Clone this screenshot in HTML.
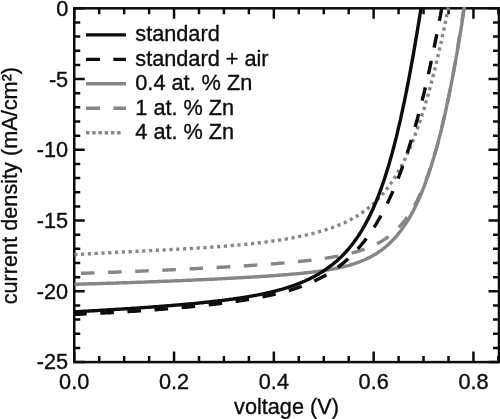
<!DOCTYPE html>
<html><head><meta charset="utf-8"><title>J-V curves</title>
<style>html,body{margin:0;padding:0;background:#fff}svg{display:block}.t text{font-family:"Liberation Sans",sans-serif}</style></head>
<body>
<svg width="500" height="419" viewBox="0 0 500 419">
<rect width="500" height="419" fill="#fff"/>
<defs><clipPath id="c"><rect x="74.25" y="7.1000000000000005" width="424.75" height="355.0"/></clipPath></defs>
<path d="M74.25,362.1v-10.5M74.25,8.3v10.5M99.20,362.1v-6.0M99.20,8.3v6.0M124.15,362.1v-6.0M124.15,8.3v6.0M149.10,362.1v-6.0M149.10,8.3v6.0M174.05,362.1v-10.5M174.05,8.3v10.5M199.00,362.1v-6.0M199.00,8.3v6.0M223.95,362.1v-6.0M223.95,8.3v6.0M248.90,362.1v-6.0M248.90,8.3v6.0M273.85,362.1v-10.5M273.85,8.3v10.5M298.80,362.1v-6.0M298.80,8.3v6.0M323.75,362.1v-6.0M323.75,8.3v6.0M348.70,362.1v-6.0M348.70,8.3v6.0M373.65,362.1v-10.5M373.65,8.3v10.5M398.60,362.1v-6.0M398.60,8.3v6.0M423.55,362.1v-6.0M423.55,8.3v6.0M448.50,362.1v-6.0M448.50,8.3v6.0M473.45,362.1v-10.5M473.45,8.3v10.5M498.40,362.1v-6.0M498.40,8.3v6.0M74.25,8.30h10.5M499.0,8.30h-10.5M74.25,22.45h6.0M499.0,22.45h-6.0M74.25,36.60h6.0M499.0,36.60h-6.0M74.25,50.75h6.0M499.0,50.75h-6.0M74.25,64.90h6.0M499.0,64.90h-6.0M74.25,79.05h10.5M499.0,79.05h-10.5M74.25,93.20h6.0M499.0,93.20h-6.0M74.25,107.35h6.0M499.0,107.35h-6.0M74.25,121.50h6.0M499.0,121.50h-6.0M74.25,135.65h6.0M499.0,135.65h-6.0M74.25,149.80h10.5M499.0,149.80h-10.5M74.25,163.95h6.0M499.0,163.95h-6.0M74.25,178.10h6.0M499.0,178.10h-6.0M74.25,192.25h6.0M499.0,192.25h-6.0M74.25,206.40h6.0M499.0,206.40h-6.0M74.25,220.55h10.5M499.0,220.55h-10.5M74.25,234.70h6.0M499.0,234.70h-6.0M74.25,248.85h6.0M499.0,248.85h-6.0M74.25,263.00h6.0M499.0,263.00h-6.0M74.25,277.15h6.0M499.0,277.15h-6.0M74.25,291.30h10.5M499.0,291.30h-10.5M74.25,305.45h6.0M499.0,305.45h-6.0M74.25,319.60h6.0M499.0,319.60h-6.0M74.25,333.75h6.0M499.0,333.75h-6.0M74.25,347.90h6.0M499.0,347.90h-6.0M74.25,362.05h10.5M499.0,362.05h-10.5" stroke="#0c0c0c" stroke-width="2.5" fill="none"/>
<rect x="74.25" y="8.3" width="424.75" height="353.8" fill="none" stroke="#0c0c0c" stroke-width="2.5"/>
<g clip-path="url(#c)" fill="none" stroke-width="3.4">
<path d="M74.2,284.3 L75.3,284.2 L76.3,284.2 L77.3,284.2 L78.4,284.2 L79.4,284.1 L80.4,284.1 L81.4,284.1 L82.5,284.0 L83.5,284.0 L84.5,284.0 L85.5,284.0 L86.6,283.9 L87.6,283.9 L88.6,283.9 L89.6,283.8 L90.7,283.8 L91.7,283.8 L92.7,283.8 L93.7,283.7 L94.8,283.7 L95.8,283.7 L96.8,283.6 L97.8,283.6 L98.9,283.6 L99.9,283.5 L100.9,283.5 L101.9,283.5 L103.0,283.5 L104.0,283.4 L105.0,283.4 L106.0,283.4 L107.1,283.3 L108.1,283.3 L109.1,283.3 L110.1,283.2 L111.2,283.2 L112.2,283.2 L113.2,283.1 L114.2,283.1 L115.3,283.1 L116.3,283.0 L117.3,283.0 L118.3,283.0 L119.4,282.9 L120.4,282.9 L121.4,282.9 L122.4,282.8 L123.5,282.8 L124.5,282.8 L125.5,282.7 L126.6,282.7 L127.6,282.7 L128.6,282.6 L129.6,282.6 L130.7,282.6 L131.7,282.5 L132.7,282.5 L133.7,282.4 L134.8,282.4 L135.8,282.4 L136.8,282.3 L137.8,282.3 L138.9,282.3 L139.9,282.2 L140.9,282.2 L141.9,282.2 L143.0,282.1 L144.0,282.1 L145.0,282.0 L146.0,282.0 L147.1,282.0 L148.1,281.9 L149.1,281.9 L150.1,281.8 L151.2,281.8 L152.2,281.8 L153.2,281.7 L154.2,281.7 L155.3,281.7 L156.3,281.6 L157.3,281.6 L158.3,281.5 L159.4,281.5 L160.4,281.5 L161.4,281.4 L162.4,281.4 L163.5,281.3 L164.5,281.3 L165.5,281.2 L166.5,281.2 L167.6,281.2 L168.6,281.1 L169.6,281.1 L170.6,281.0 L171.7,281.0 L172.7,281.0 L173.7,280.9 L174.8,280.9 L175.8,280.8 L176.8,280.8 L177.8,280.7 L178.9,280.7 L179.9,280.7 L180.9,280.6 L181.9,280.6 L183.0,280.5 L184.0,280.5 L185.0,280.4 L186.0,280.4 L187.1,280.3 L188.1,280.3 L189.1,280.3 L190.1,280.2 L191.2,280.2 L192.2,280.1 L193.2,280.1 L194.2,280.0 L195.3,280.0 L196.3,279.9 L197.3,279.9 L198.3,279.8 L199.4,279.8 L200.4,279.7 L201.4,279.7 L202.4,279.6 L203.5,279.6 L204.5,279.6 L205.5,279.5 L206.5,279.5 L207.6,279.4 L208.6,279.4 L209.6,279.3 L210.6,279.3 L211.7,279.2 L212.7,279.2 L213.7,279.1 L214.7,279.1 L215.8,279.0 L216.8,279.0 L217.8,278.9 L218.8,278.9 L219.9,278.8 L220.9,278.7 L221.9,278.7 L222.9,278.6 L224.0,278.6 L225.0,278.5 L226.0,278.5 L227.1,278.4 L228.1,278.4 L229.1,278.3 L230.1,278.3 L231.2,278.2 L232.2,278.2 L233.2,278.1 L234.2,278.1 L235.3,278.0 L236.3,277.9 L237.3,277.9 L238.3,277.8 L239.4,277.8 L240.4,277.7 L241.4,277.7 L242.4,277.6 L243.5,277.5 L244.5,277.5 L245.5,277.4 L246.5,277.4 L247.6,277.3 L248.6,277.2 L249.6,277.2 L250.6,277.1 L251.7,277.1 L252.7,277.0 L253.7,276.9 L254.7,276.9 L255.8,276.8 L256.8,276.8 L257.8,276.7 L258.8,276.6 L259.9,276.6 L260.9,276.5 L261.9,276.4 L262.9,276.4 L264.0,276.3 L265.0,276.2 L266.0,276.2 L267.0,276.1 L268.1,276.0 L269.1,276.0 L270.1,275.9 L271.1,275.8 L272.2,275.7 L273.2,275.7 L274.2,275.6 L275.3,275.5 L276.3,275.4 L277.3,275.4 L278.3,275.3 L279.4,275.2 L280.4,275.1 L281.4,275.1 L282.4,275.0 L283.5,274.9 L284.5,274.8 L285.5,274.7 L286.5,274.7 L287.6,274.6 L288.6,274.5 L289.6,274.4 L290.6,274.3 L291.7,274.2 L292.7,274.1 L293.7,274.0 L294.7,273.9 L295.8,273.9 L296.8,273.8 L297.8,273.7 L298.8,273.6 L299.9,273.5 L300.9,273.4 L301.9,273.3 L302.9,273.2 L304.0,273.0 L305.0,272.9 L306.0,272.8 L307.0,272.7 L308.1,272.6 L309.1,272.5 L310.1,272.4 L311.1,272.2 L312.2,272.1 L313.2,272.0 L314.2,271.9 L315.2,271.7 L316.3,271.6 L317.3,271.5 L318.3,271.3 L319.3,271.2 L320.4,271.1 L321.4,270.9 L322.4,270.8 L323.4,270.6 L324.5,270.4 L325.5,270.3 L326.5,270.1 L327.6,270.0 L328.6,269.8 L329.6,269.6 L330.6,269.4 L331.7,269.2 L332.7,269.1 L333.7,268.9 L334.7,268.7 L335.8,268.5 L336.8,268.2 L337.8,268.0 L338.8,267.8 L339.9,267.6 L340.9,267.4 L341.9,267.1 L342.9,266.9 L344.0,266.6 L345.0,266.4 L346.0,266.1 L347.0,265.8 L348.1,265.6 L349.1,265.3 L350.1,265.0 L351.1,264.7 L352.2,264.4 L353.2,264.0 L354.2,263.7 L355.2,263.4 L356.3,263.0 L357.3,262.7 L358.3,262.3 L359.3,261.9 L360.4,261.5 L361.4,261.1 L362.4,260.7 L363.4,260.3 L364.5,259.8 L365.5,259.3 L366.5,258.9 L367.5,258.4 L368.6,257.9 L369.6,257.4 L370.6,256.8 L371.6,256.3 L372.7,255.7 L373.7,255.1 L374.7,254.5 L375.8,253.9 L376.8,253.3 L377.8,252.6 L378.8,251.9 L379.9,251.2 L380.9,250.5 L381.9,249.8 L382.9,249.0 L384.0,248.2 L385.0,247.4 L386.0,246.5 L387.0,245.6 L388.1,244.7 L389.1,243.8 L390.1,242.8 L391.1,241.8 L392.2,240.8 L393.2,239.7 L394.2,238.6 L395.2,237.5 L396.3,236.4 L397.3,235.2 L398.3,233.9 L399.3,232.6 L400.4,231.3 L401.4,230.0 L402.4,228.6 L403.4,227.1 L404.5,225.6 L405.5,224.1 L406.5,222.5 L407.5,220.9 L408.6,219.2 L409.6,217.4 L410.6,215.6 L411.6,213.8 L412.7,211.9 L413.7,209.9 L414.7,207.9 L415.7,205.8 L416.8,203.7 L417.8,201.5 L418.8,199.2 L419.8,196.9 L420.9,194.4 L421.9,192.0 L422.9,189.4 L424.0,186.8 L425.0,184.1 L426.0,181.3 L427.0,178.4 L428.1,175.5 L429.1,172.5 L430.1,169.4 L431.1,166.2 L432.2,162.9 L433.2,159.6 L434.2,156.1 L435.2,152.6 L436.3,148.9 L437.3,145.2 L438.3,141.4 L439.3,137.4 L440.4,133.4 L441.4,129.3 L442.4,125.0 L443.4,120.7 L444.5,116.3 L445.5,111.7 L446.5,107.0 L447.5,102.3 L448.6,97.4 L449.6,92.4 L450.6,87.3 L451.6,82.1 L452.7,76.7 L453.7,71.3 L454.7,65.7 L455.7,60.0 L456.8,54.2 L457.8,48.3 L458.8,42.2 L459.8,36.0 L460.9,29.7 L461.9,23.3 L462.9,16.7 L463.9,10.0 L465.0,3.2 L466.0,-3.7" stroke="#868686"/>
<path d="M74.2,273.6 L75.3,273.5 L76.3,273.5 L77.3,273.5 L78.4,273.4 L79.4,273.4 L80.4,273.4 L81.4,273.3 L82.5,273.3 L83.5,273.3 L84.5,273.2 L85.5,273.2 L86.6,273.1 L87.6,273.1 L88.6,273.1 L89.6,273.0 L90.7,273.0 L91.7,273.0 L92.7,272.9 L93.7,272.9 L94.8,272.9 L95.8,272.8 L96.8,272.8 L97.8,272.8 L98.9,272.7 L99.9,272.7 L100.9,272.6 L101.9,272.6 L103.0,272.6 L104.0,272.5 L105.0,272.5 L106.0,272.5 L107.1,272.4 L108.1,272.4 L109.1,272.3 L110.1,272.3 L111.2,272.3 L112.2,272.2 L113.2,272.2 L114.2,272.2 L115.3,272.1 L116.3,272.1 L117.3,272.0 L118.3,272.0 L119.4,272.0 L120.4,271.9 L121.4,271.9 L122.4,271.8 L123.5,271.8 L124.5,271.8 L125.5,271.7 L126.6,271.7 L127.6,271.6 L128.6,271.6 L129.6,271.6 L130.7,271.5 L131.7,271.5 L132.7,271.4 L133.7,271.4 L134.8,271.4 L135.8,271.3 L136.8,271.3 L137.8,271.2 L138.9,271.2 L139.9,271.2 L140.9,271.1 L141.9,271.1 L143.0,271.0 L144.0,271.0 L145.0,270.9 L146.0,270.9 L147.1,270.9 L148.1,270.8 L149.1,270.8 L150.1,270.7 L151.2,270.7 L152.2,270.6 L153.2,270.6 L154.2,270.5 L155.3,270.5 L156.3,270.5 L157.3,270.4 L158.3,270.4 L159.4,270.3 L160.4,270.3 L161.4,270.2 L162.4,270.2 L163.5,270.1 L164.5,270.1 L165.5,270.1 L166.5,270.0 L167.6,270.0 L168.6,269.9 L169.6,269.9 L170.6,269.8 L171.7,269.8 L172.7,269.7 L173.7,269.7 L174.8,269.6 L175.8,269.6 L176.8,269.5 L177.8,269.5 L178.9,269.4 L179.9,269.4 L180.9,269.3 L181.9,269.3 L183.0,269.2 L184.0,269.2 L185.0,269.1 L186.0,269.1 L187.1,269.0 L188.1,269.0 L189.1,268.9 L190.1,268.9 L191.2,268.8 L192.2,268.8 L193.2,268.7 L194.2,268.7 L195.3,268.6 L196.3,268.6 L197.3,268.5 L198.3,268.5 L199.4,268.4 L200.4,268.4 L201.4,268.3 L202.4,268.3 L203.5,268.2 L204.5,268.2 L205.5,268.1 L206.5,268.1 L207.6,268.0 L208.6,268.0 L209.6,267.9 L210.6,267.8 L211.7,267.8 L212.7,267.7 L213.7,267.7 L214.7,267.6 L215.8,267.6 L216.8,267.5 L217.8,267.5 L218.8,267.4 L219.9,267.3 L220.9,267.3 L221.9,267.2 L222.9,267.2 L224.0,267.1 L225.0,267.0 L226.0,267.0 L227.1,266.9 L228.1,266.9 L229.1,266.8 L230.1,266.7 L231.2,266.7 L232.2,266.6 L233.2,266.6 L234.2,266.5 L235.3,266.4 L236.3,266.4 L237.3,266.3 L238.3,266.3 L239.4,266.2 L240.4,266.1 L241.4,266.1 L242.4,266.0 L243.5,265.9 L244.5,265.9 L245.5,265.8 L246.5,265.7 L247.6,265.7 L248.6,265.6 L249.6,265.5 L250.6,265.5 L251.7,265.4 L252.7,265.3 L253.7,265.2 L254.7,265.2 L255.8,265.1 L256.8,265.0 L257.8,265.0 L258.8,264.9 L259.9,264.8 L260.9,264.7 L261.9,264.7 L262.9,264.6 L264.0,264.5 L265.0,264.4 L266.0,264.4 L267.0,264.3 L268.1,264.2 L269.1,264.1 L270.1,264.1 L271.1,264.0 L272.2,263.9 L273.2,263.8 L274.2,263.7 L275.3,263.7 L276.3,263.6 L277.3,263.5 L278.3,263.4 L279.4,263.3 L280.4,263.2 L281.4,263.1 L282.4,263.1 L283.5,263.0 L284.5,262.9 L285.5,262.8 L286.5,262.7 L287.6,262.6 L288.6,262.5 L289.6,262.4 L290.6,262.3 L291.7,262.2 L292.7,262.1 L293.7,262.0 L294.7,261.9 L295.8,261.8 L296.8,261.7 L297.8,261.6 L298.8,261.5 L299.9,261.4 L300.9,261.3 L301.9,261.2 L302.9,261.1 L304.0,261.0 L305.0,260.9 L306.0,260.7 L307.0,260.6 L308.1,260.5 L309.1,260.4 L310.1,260.3 L311.1,260.1 L312.2,260.0 L313.2,259.9 L314.2,259.8 L315.2,259.6 L316.3,259.5 L317.3,259.4 L318.3,259.2 L319.3,259.1 L320.4,259.0 L321.4,258.8 L322.4,258.7 L323.4,258.5 L324.5,258.4 L325.5,258.2 L326.5,258.1 L327.6,257.9 L328.6,257.7 L329.6,257.6 L330.6,257.4 L331.7,257.2 L332.7,257.1 L333.7,256.9 L334.7,256.7 L335.8,256.5 L336.8,256.3 L337.8,256.1 L338.8,255.9 L339.9,255.7 L340.9,255.5 L341.9,255.3 L342.9,255.1 L344.0,254.9 L345.0,254.7 L346.0,254.4 L347.0,254.2 L348.1,254.0 L349.1,253.7 L350.1,253.5 L351.1,253.2 L352.2,252.9 L353.2,252.7 L354.2,252.4 L355.2,252.1 L356.3,251.8 L357.3,251.5 L358.3,251.2 L359.3,250.9 L360.4,250.6 L361.4,250.2 L362.4,249.9 L363.4,249.5 L364.5,249.2 L365.5,248.8 L366.5,248.4 L367.5,248.0 L368.6,247.6 L369.6,247.2 L370.6,246.8 L371.6,246.3 L372.7,245.9 L373.7,245.4 L374.7,244.9 L375.8,244.4 L376.8,243.9 L377.8,243.3 L378.8,242.8 L379.9,242.2 L380.9,241.6 L381.9,241.0 L382.9,240.4 L384.0,239.7 L385.0,239.1 L386.0,238.4 L387.0,237.6 L388.1,236.9 L389.1,236.1 L390.1,235.3 L391.1,234.5 L392.2,233.7 L393.2,232.8 L394.2,231.9 L395.2,230.9 L396.3,229.9 L397.3,228.9 L398.3,227.9 L399.3,226.8 L400.4,225.7 L401.4,224.5 L402.4,223.3 L403.4,222.1 L404.5,220.8 L405.5,219.4 L406.5,218.0 L407.5,216.6 L408.6,215.1 L409.6,213.6 L410.6,212.0 L411.6,210.4 L412.7,208.6 L413.7,206.9 L414.7,205.1 L415.7,203.2 L416.8,201.2 L417.8,199.2 L418.8,197.1 L419.8,194.9 L420.9,192.7 L421.9,190.4 L422.9,188.0 L424.0,185.5 L425.0,183.0 L426.0,180.3 L427.0,177.6 L428.1,174.8 L429.1,171.9 L430.1,168.9 L431.1,165.8 L432.2,162.6 L433.2,159.3 L434.2,155.9 L435.2,152.5 L436.3,148.9 L437.3,145.2 L438.3,141.4 L439.3,137.5 L440.4,133.4 L441.4,129.3 L442.4,125.0 L443.4,120.7 L444.5,116.2 L445.5,111.6 L446.5,106.9 L447.5,102.1 L448.6,97.1 L449.6,92.0 L450.6,86.8 L451.6,81.5 L452.7,76.0 L453.7,70.5 L454.7,64.8 L455.7,58.9 L456.8,53.0 L457.8,46.9 L458.8,40.7 L459.8,34.4 L460.9,27.9 L461.9,21.3 L462.9,14.6 L463.9,7.8 L465.0,0.8" stroke="#868686" stroke-dasharray="13.6 13.6" stroke-dashoffset="20.45"/>
<path d="M74.2,254.7 L75.3,254.6 L76.3,254.5 L77.3,254.5 L78.4,254.4 L79.4,254.4 L80.4,254.3 L81.4,254.2 L82.5,254.2 L83.5,254.1 L84.5,254.1 L85.5,254.0 L86.6,253.9 L87.6,253.9 L88.6,253.8 L89.6,253.8 L90.7,253.7 L91.7,253.6 L92.7,253.6 L93.7,253.5 L94.8,253.5 L95.8,253.4 L96.8,253.4 L97.8,253.3 L98.9,253.3 L99.9,253.2 L100.9,253.1 L101.9,253.1 L103.0,253.0 L104.0,253.0 L105.0,252.9 L106.0,252.9 L107.1,252.8 L108.1,252.8 L109.1,252.7 L110.1,252.7 L111.2,252.6 L112.2,252.5 L113.2,252.5 L114.2,252.4 L115.3,252.4 L116.3,252.3 L117.3,252.3 L118.3,252.2 L119.4,252.2 L120.4,252.1 L121.4,252.1 L122.4,252.0 L123.5,252.0 L124.5,251.9 L125.5,251.9 L126.6,251.8 L127.6,251.8 L128.6,251.7 L129.6,251.7 L130.7,251.6 L131.7,251.6 L132.7,251.5 L133.7,251.5 L134.8,251.4 L135.8,251.4 L136.8,251.3 L137.8,251.2 L138.9,251.2 L139.9,251.1 L140.9,251.1 L141.9,251.0 L143.0,251.0 L144.0,250.9 L145.0,250.9 L146.0,250.8 L147.1,250.8 L148.1,250.7 L149.1,250.7 L150.1,250.6 L151.2,250.6 L152.2,250.5 L153.2,250.5 L154.2,250.4 L155.3,250.4 L156.3,250.3 L157.3,250.3 L158.3,250.2 L159.4,250.2 L160.4,250.1 L161.4,250.1 L162.4,250.0 L163.5,250.0 L164.5,249.9 L165.5,249.9 L166.5,249.8 L167.6,249.7 L168.6,249.7 L169.6,249.6 L170.6,249.6 L171.7,249.5 L172.7,249.5 L173.7,249.4 L174.8,249.4 L175.8,249.3 L176.8,249.3 L177.8,249.2 L178.9,249.1 L179.9,249.1 L180.9,249.0 L181.9,249.0 L183.0,248.9 L184.0,248.9 L185.0,248.8 L186.0,248.7 L187.1,248.7 L188.1,248.6 L189.1,248.6 L190.1,248.5 L191.2,248.4 L192.2,248.4 L193.2,248.3 L194.2,248.3 L195.3,248.2 L196.3,248.1 L197.3,248.1 L198.3,248.0 L199.4,247.9 L200.4,247.9 L201.4,247.8 L202.4,247.7 L203.5,247.7 L204.5,247.6 L205.5,247.5 L206.5,247.5 L207.6,247.4 L208.6,247.3 L209.6,247.3 L210.6,247.2 L211.7,247.1 L212.7,247.0 L213.7,247.0 L214.7,246.9 L215.8,246.8 L216.8,246.8 L217.8,246.7 L218.8,246.6 L219.9,246.5 L220.9,246.4 L221.9,246.4 L222.9,246.3 L224.0,246.2 L225.0,246.1 L226.0,246.0 L227.1,246.0 L228.1,245.9 L229.1,245.8 L230.1,245.7 L231.2,245.6 L232.2,245.5 L233.2,245.4 L234.2,245.4 L235.3,245.3 L236.3,245.2 L237.3,245.1 L238.3,245.0 L239.4,244.9 L240.4,244.8 L241.4,244.7 L242.4,244.6 L243.5,244.5 L244.5,244.4 L245.5,244.3 L246.5,244.2 L247.6,244.1 L248.6,244.0 L249.6,243.9 L250.6,243.8 L251.7,243.7 L252.7,243.5 L253.7,243.4 L254.7,243.3 L255.8,243.2 L256.8,243.1 L257.8,243.0 L258.8,242.8 L259.9,242.7 L260.9,242.6 L261.9,242.5 L262.9,242.3 L264.0,242.2 L265.0,242.1 L266.0,242.0 L267.0,241.8 L268.1,241.7 L269.1,241.6 L270.1,241.4 L271.1,241.3 L272.2,241.1 L273.2,241.0 L274.2,240.8 L275.3,240.7 L276.3,240.5 L277.3,240.4 L278.3,240.2 L279.4,240.1 L280.4,239.9 L281.4,239.8 L282.4,239.6 L283.5,239.4 L284.5,239.3 L285.5,239.1 L286.5,238.9 L287.6,238.8 L288.6,238.6 L289.6,238.4 L290.6,238.2 L291.7,238.0 L292.7,237.8 L293.7,237.6 L294.7,237.4 L295.8,237.3 L296.8,237.0 L297.8,236.8 L298.8,236.6 L299.9,236.4 L300.9,236.2 L301.9,236.0 L302.9,235.8 L304.0,235.6 L305.0,235.3 L306.0,235.1 L307.0,234.9 L308.1,234.6 L309.1,234.4 L310.1,234.1 L311.1,233.9 L312.2,233.6 L313.2,233.4 L314.2,233.1 L315.2,232.8 L316.3,232.6 L317.3,232.3 L318.3,232.0 L319.3,231.7 L320.4,231.4 L321.4,231.1 L322.4,230.8 L323.4,230.5 L324.5,230.2 L325.5,229.9 L326.5,229.5 L327.6,229.2 L328.6,228.9 L329.6,228.5 L330.6,228.2 L331.7,227.8 L332.7,227.4 L333.7,227.1 L334.7,226.7 L335.8,226.3 L336.8,225.9 L337.8,225.5 L338.8,225.1 L339.9,224.6 L340.9,224.2 L341.9,223.8 L342.9,223.3 L344.0,222.9 L345.0,222.4 L346.0,221.9 L347.0,221.4 L348.1,220.9 L349.1,220.4 L350.1,219.9 L351.1,219.3 L352.2,218.8 L353.2,218.2 L354.2,217.6 L355.2,217.0 L356.3,216.4 L357.3,215.8 L358.3,215.2 L359.3,214.5 L360.4,213.8 L361.4,213.1 L362.4,212.4 L363.4,211.7 L364.5,211.0 L365.5,210.2 L366.5,209.4 L367.5,208.6 L368.6,207.8 L369.6,207.0 L370.6,206.1 L371.6,205.2 L372.7,204.3 L373.7,203.4 L374.7,202.4 L375.8,201.5 L376.8,200.5 L377.8,199.4 L378.8,198.4 L379.9,197.3 L380.9,196.1 L381.9,195.0 L382.9,193.8 L384.0,192.6 L385.0,191.3 L386.0,190.1 L387.0,188.7 L388.1,187.4 L389.1,186.0 L390.1,184.6 L391.1,183.1 L392.2,181.6 L393.2,180.0 L394.2,178.4 L395.2,176.8 L396.3,175.1 L397.3,173.4 L398.3,171.6 L399.3,169.8 L400.4,167.9 L401.4,166.0 L402.4,164.1 L403.4,162.0 L404.5,159.9 L405.5,157.8 L406.5,155.6 L407.5,153.4 L408.6,151.1 L409.6,148.7 L410.6,146.3 L411.6,143.8 L412.7,141.3 L413.7,138.7 L414.7,136.0 L415.7,133.2 L416.8,130.4 L417.8,127.6 L418.8,124.6 L419.8,121.6 L420.9,118.5 L421.9,115.4 L422.9,112.2 L424.0,108.9 L425.0,105.5 L426.0,102.0 L427.0,98.5 L428.1,94.9 L429.1,91.2 L430.1,87.5 L431.1,83.7 L432.2,79.8 L433.2,75.8 L434.2,71.7 L435.2,67.6 L436.3,63.4 L437.3,59.1 L438.3,54.7 L439.3,50.2 L440.4,45.7 L441.4,41.1 L442.4,36.3 L443.4,31.6 L444.5,26.7 L445.5,21.8 L446.5,16.7 L447.5,11.6 L448.6,6.4 L449.6,1.2" stroke="#868686" stroke-dasharray="3.2 3.62" stroke-dashoffset="0"/>
<path d="M74.2,314.4 L75.3,314.3 L76.3,314.3 L77.3,314.2 L78.4,314.2 L79.4,314.2 L80.4,314.1 L81.4,314.1 L82.5,314.0 L83.5,314.0 L84.5,313.9 L85.5,313.9 L86.6,313.8 L87.6,313.8 L88.6,313.7 L89.6,313.7 L90.7,313.6 L91.7,313.6 L92.7,313.6 L93.7,313.5 L94.8,313.5 L95.8,313.4 L96.8,313.4 L97.8,313.3 L98.9,313.3 L99.9,313.2 L100.9,313.1 L101.9,313.1 L103.0,313.0 L104.0,313.0 L105.0,312.9 L106.0,312.9 L107.1,312.8 L108.1,312.8 L109.1,312.7 L110.1,312.7 L111.2,312.6 L112.2,312.5 L113.2,312.5 L114.2,312.4 L115.3,312.4 L116.3,312.3 L117.3,312.3 L118.3,312.2 L119.4,312.1 L120.4,312.1 L121.4,312.0 L122.4,312.0 L123.5,311.9 L124.5,311.8 L125.5,311.8 L126.6,311.7 L127.6,311.6 L128.6,311.6 L129.6,311.5 L130.7,311.4 L131.7,311.4 L132.7,311.3 L133.7,311.3 L134.8,311.2 L135.8,311.1 L136.8,311.1 L137.8,311.0 L138.9,310.9 L139.9,310.8 L140.9,310.8 L141.9,310.7 L143.0,310.6 L144.0,310.6 L145.0,310.5 L146.0,310.4 L147.1,310.3 L148.1,310.3 L149.1,310.2 L150.1,310.1 L151.2,310.1 L152.2,310.0 L153.2,309.9 L154.2,309.8 L155.3,309.7 L156.3,309.7 L157.3,309.6 L158.3,309.5 L159.4,309.4 L160.4,309.4 L161.4,309.3 L162.4,309.2 L163.5,309.1 L164.5,309.0 L165.5,308.9 L166.5,308.9 L167.6,308.8 L168.6,308.7 L169.6,308.6 L170.6,308.5 L171.7,308.4 L172.7,308.4 L173.7,308.3 L174.8,308.2 L175.8,308.1 L176.8,308.0 L177.8,307.9 L178.9,307.8 L179.9,307.7 L180.9,307.6 L181.9,307.5 L183.0,307.4 L184.0,307.4 L185.0,307.3 L186.0,307.2 L187.1,307.1 L188.1,307.0 L189.1,306.9 L190.1,306.8 L191.2,306.7 L192.2,306.6 L193.2,306.5 L194.2,306.4 L195.3,306.3 L196.3,306.2 L197.3,306.1 L198.3,306.0 L199.4,305.9 L200.4,305.7 L201.4,305.6 L202.4,305.5 L203.5,305.4 L204.5,305.3 L205.5,305.2 L206.5,305.1 L207.6,305.0 L208.6,304.9 L209.6,304.7 L210.6,304.6 L211.7,304.5 L212.7,304.4 L213.7,304.3 L214.7,304.2 L215.8,304.0 L216.8,303.9 L217.8,303.8 L218.8,303.7 L219.9,303.5 L220.9,303.4 L221.9,303.3 L222.9,303.2 L224.0,303.0 L225.0,302.9 L226.0,302.8 L227.1,302.6 L228.1,302.5 L229.1,302.3 L230.1,302.2 L231.2,302.1 L232.2,301.9 L233.2,301.8 L234.2,301.6 L235.3,301.5 L236.3,301.3 L237.3,301.2 L238.3,301.0 L239.4,300.9 L240.4,300.7 L241.4,300.6 L242.4,300.4 L243.5,300.3 L244.5,300.1 L245.5,299.9 L246.5,299.8 L247.6,299.6 L248.6,299.4 L249.6,299.3 L250.6,299.1 L251.7,298.9 L252.7,298.7 L253.7,298.5 L254.7,298.4 L255.8,298.2 L256.8,298.0 L257.8,297.8 L258.8,297.6 L259.9,297.4 L260.9,297.2 L261.9,297.0 L262.9,296.8 L264.0,296.6 L265.0,296.4 L266.0,296.2 L267.0,296.0 L268.1,295.7 L269.1,295.5 L270.1,295.3 L271.1,295.1 L272.2,294.8 L273.2,294.6 L274.2,294.4 L275.3,294.1 L276.3,293.9 L277.3,293.6 L278.3,293.4 L279.4,293.1 L280.4,292.8 L281.4,292.6 L282.4,292.3 L283.5,292.0 L284.5,291.8 L285.5,291.5 L286.5,291.2 L287.6,290.9 L288.6,290.6 L289.6,290.3 L290.6,290.0 L291.7,289.7 L292.7,289.3 L293.7,289.0 L294.7,288.7 L295.8,288.3 L296.8,288.0 L297.8,287.7 L298.8,287.3 L299.9,286.9 L300.9,286.6 L301.9,286.2 L302.9,285.8 L304.0,285.4 L305.0,285.0 L306.0,284.6 L307.0,284.2 L308.1,283.8 L309.1,283.4 L310.1,282.9 L311.1,282.5 L312.2,282.0 L313.2,281.6 L314.2,281.1 L315.2,280.6 L316.3,280.1 L317.3,279.6 L318.3,279.1 L319.3,278.6 L320.4,278.1 L321.4,277.5 L322.4,277.0 L323.4,276.4 L324.5,275.9 L325.5,275.3 L326.5,274.7 L327.6,274.1 L328.6,273.5 L329.6,272.8 L330.6,272.2 L331.7,271.5 L332.7,270.8 L333.7,270.1 L334.7,269.4 L335.8,268.7 L336.8,268.0 L337.8,267.2 L338.8,266.5 L339.9,265.7 L340.9,264.9 L341.9,264.1 L342.9,263.3 L344.0,262.4 L345.0,261.5 L346.0,260.6 L347.0,259.7 L348.1,258.8 L349.1,257.9 L350.1,256.9 L351.1,255.9 L352.2,254.9 L353.2,253.9 L354.2,252.8 L355.2,251.8 L356.3,250.7 L357.3,249.5 L358.3,248.4 L359.3,247.2 L360.4,246.0 L361.4,244.8 L362.4,243.5 L363.4,242.3 L364.5,241.0 L365.5,239.6 L366.5,238.3 L367.5,236.9 L368.6,235.5 L369.6,234.0 L370.6,232.5 L371.6,231.0 L372.7,229.5 L373.7,227.9 L374.7,226.3 L375.8,224.6 L376.8,222.9 L377.8,221.2 L378.8,219.4 L379.9,217.6 L380.9,215.8 L381.9,213.9 L382.9,212.0 L384.0,210.1 L385.0,208.1 L386.0,206.0 L387.0,203.9 L388.1,201.8 L389.1,199.6 L390.1,197.4 L391.1,195.2 L392.2,192.9 L393.2,190.5 L394.2,188.1 L395.2,185.6 L396.3,183.1 L397.3,180.6 L398.3,178.0 L399.3,175.3 L400.4,172.6 L401.4,169.8 L402.4,167.0 L403.4,164.1 L404.5,161.2 L405.5,158.2 L406.5,155.1 L407.5,152.0 L408.6,148.8 L409.6,145.6 L410.6,142.3 L411.6,138.9 L412.7,135.5 L413.7,132.0 L414.7,128.4 L415.7,124.8 L416.8,121.1 L417.8,117.3 L418.8,113.5 L419.8,109.6 L420.9,105.6 L421.9,101.6 L422.9,97.4 L424.0,93.3 L425.0,89.0 L426.0,84.6 L427.0,80.2 L428.1,75.7 L429.1,71.2 L430.1,66.5 L431.1,61.8 L432.2,57.0 L433.2,52.1 L434.2,47.1 L435.2,42.1 L436.3,36.9 L437.3,31.7 L438.3,26.4 L439.3,21.0 L440.4,15.6 L441.4,10.0 L442.4,4.4 L443.4,-1.3" stroke="#0c0c0c" stroke-dasharray="13.6 13.6" stroke-dashoffset="1.05"/>
<path d="M74.2,311.8 L75.3,311.7 L76.3,311.7 L77.3,311.6 L78.4,311.6 L79.4,311.5 L80.4,311.5 L81.4,311.4 L82.5,311.4 L83.5,311.3 L84.5,311.2 L85.5,311.2 L86.6,311.1 L87.6,311.1 L88.6,311.0 L89.6,311.0 L90.7,310.9 L91.7,310.9 L92.7,310.8 L93.7,310.7 L94.8,310.7 L95.8,310.6 L96.8,310.6 L97.8,310.5 L98.9,310.4 L99.9,310.4 L100.9,310.3 L101.9,310.3 L103.0,310.2 L104.0,310.1 L105.0,310.1 L106.0,310.0 L107.1,310.0 L108.1,309.9 L109.1,309.8 L110.1,309.8 L111.2,309.7 L112.2,309.7 L113.2,309.6 L114.2,309.5 L115.3,309.5 L116.3,309.4 L117.3,309.3 L118.3,309.3 L119.4,309.2 L120.4,309.1 L121.4,309.1 L122.4,309.0 L123.5,309.0 L124.5,308.9 L125.5,308.8 L126.6,308.8 L127.6,308.7 L128.6,308.6 L129.6,308.6 L130.7,308.5 L131.7,308.4 L132.7,308.3 L133.7,308.3 L134.8,308.2 L135.8,308.1 L136.8,308.1 L137.8,308.0 L138.9,307.9 L139.9,307.9 L140.9,307.8 L141.9,307.7 L143.0,307.6 L144.0,307.6 L145.0,307.5 L146.0,307.4 L147.1,307.4 L148.1,307.3 L149.1,307.2 L150.1,307.1 L151.2,307.1 L152.2,307.0 L153.2,306.9 L154.2,306.8 L155.3,306.8 L156.3,306.7 L157.3,306.6 L158.3,306.5 L159.4,306.4 L160.4,306.4 L161.4,306.3 L162.4,306.2 L163.5,306.1 L164.5,306.0 L165.5,306.0 L166.5,305.9 L167.6,305.8 L168.6,305.7 L169.6,305.6 L170.6,305.6 L171.7,305.5 L172.7,305.4 L173.7,305.3 L174.8,305.2 L175.8,305.1 L176.8,305.0 L177.8,305.0 L178.9,304.9 L179.9,304.8 L180.9,304.7 L181.9,304.6 L183.0,304.5 L184.0,304.4 L185.0,304.3 L186.0,304.2 L187.1,304.1 L188.1,304.0 L189.1,304.0 L190.1,303.9 L191.2,303.8 L192.2,303.7 L193.2,303.6 L194.2,303.5 L195.3,303.4 L196.3,303.3 L197.3,303.2 L198.3,303.1 L199.4,303.0 L200.4,302.9 L201.4,302.8 L202.4,302.7 L203.5,302.5 L204.5,302.4 L205.5,302.3 L206.5,302.2 L207.6,302.1 L208.6,302.0 L209.6,301.9 L210.6,301.8 L211.7,301.7 L212.7,301.5 L213.7,301.4 L214.7,301.3 L215.8,301.2 L216.8,301.1 L217.8,301.0 L218.8,300.8 L219.9,300.7 L220.9,300.6 L221.9,300.5 L222.9,300.3 L224.0,300.2 L225.0,300.1 L226.0,299.9 L227.1,299.8 L228.1,299.7 L229.1,299.5 L230.1,299.4 L231.2,299.3 L232.2,299.1 L233.2,299.0 L234.2,298.8 L235.3,298.7 L236.3,298.5 L237.3,298.4 L238.3,298.2 L239.4,298.1 L240.4,297.9 L241.4,297.8 L242.4,297.6 L243.5,297.4 L244.5,297.3 L245.5,297.1 L246.5,296.9 L247.6,296.8 L248.6,296.6 L249.6,296.4 L250.6,296.2 L251.7,296.1 L252.7,295.9 L253.7,295.7 L254.7,295.5 L255.8,295.3 L256.8,295.1 L257.8,294.9 L258.8,294.7 L259.9,294.5 L260.9,294.3 L261.9,294.1 L262.9,293.9 L264.0,293.7 L265.0,293.4 L266.0,293.2 L267.0,293.0 L268.1,292.7 L269.1,292.5 L270.1,292.3 L271.1,292.0 L272.2,291.8 L273.2,291.5 L274.2,291.3 L275.3,291.0 L276.3,290.7 L277.3,290.5 L278.3,290.2 L279.4,289.9 L280.4,289.6 L281.4,289.4 L282.4,289.1 L283.5,288.8 L284.5,288.5 L285.5,288.1 L286.5,287.8 L287.6,287.5 L288.6,287.2 L289.6,286.8 L290.6,286.5 L291.7,286.1 L292.7,285.8 L293.7,285.4 L294.7,285.1 L295.8,284.7 L296.8,284.3 L297.8,283.9 L298.8,283.5 L299.9,283.1 L300.9,282.7 L301.9,282.3 L302.9,281.8 L304.0,281.4 L305.0,281.0 L306.0,280.5 L307.0,280.0 L308.1,279.5 L309.1,279.1 L310.1,278.6 L311.1,278.1 L312.2,277.5 L313.2,277.0 L314.2,276.5 L315.2,275.9 L316.3,275.3 L317.3,274.8 L318.3,274.2 L319.3,273.6 L320.4,272.9 L321.4,272.3 L322.4,271.7 L323.4,271.0 L324.5,270.3 L325.5,269.6 L326.5,268.9 L327.6,268.2 L328.6,267.5 L329.6,266.7 L330.6,265.9 L331.7,265.1 L332.7,264.3 L333.7,263.5 L334.7,262.7 L335.8,261.8 L336.8,260.9 L337.8,260.0 L338.8,259.0 L339.9,258.1 L340.9,257.1 L341.9,256.1 L342.9,255.0 L344.0,254.0 L345.0,252.9 L346.0,251.8 L347.0,250.6 L348.1,249.5 L349.1,248.3 L350.1,247.0 L351.1,245.8 L352.2,244.4 L353.2,243.1 L354.2,241.7 L355.2,240.3 L356.3,238.9 L357.3,237.4 L358.3,235.9 L359.3,234.3 L360.4,232.7 L361.4,231.0 L362.4,229.3 L363.4,227.6 L364.5,225.8 L365.5,223.9 L366.5,222.0 L367.5,220.1 L368.6,218.1 L369.6,216.0 L370.6,213.9 L371.6,211.7 L372.7,209.5 L373.7,207.2 L374.7,204.8 L375.8,202.4 L376.8,199.9 L377.8,197.3 L378.8,194.6 L379.9,191.9 L380.9,189.1 L381.9,186.3 L382.9,183.3 L384.0,180.3 L385.0,177.2 L386.0,174.0 L387.0,170.7 L388.1,167.3 L389.1,163.9 L390.1,160.4 L391.1,156.7 L392.2,153.0 L393.2,149.2 L394.2,145.3 L395.2,141.3 L396.3,137.2 L397.3,133.0 L398.3,128.7 L399.3,124.3 L400.4,119.8 L401.4,115.2 L402.4,110.5 L403.4,105.7 L404.5,100.8 L405.5,95.9 L406.5,90.8 L407.5,85.6 L408.6,80.3 L409.6,74.9 L410.6,69.4 L411.6,63.8 L412.7,58.1 L413.7,52.3 L414.7,46.4 L415.7,40.4 L416.8,34.3 L417.8,28.1 L418.8,21.9 L419.8,15.5 L420.9,9.0 L421.9,2.4 L422.9,-4.2" stroke="#0c0c0c"/>
</g>
<g class="t" font-size="21.7" fill="#0c0c0c" stroke="#0c0c0c" stroke-width="0.35">
<path d="M86.0,34.9H126.0" stroke="#0c0c0c" stroke-width="3.4"/>
<text x="135.3" y="41.4">standard</text>
<path d="M86.0,59.35H126.0" stroke="#0c0c0c" stroke-width="3.4" stroke-dasharray="14 13.4"/>
<text x="135.3" y="65.8">standard + air</text>
<path d="M86.0,83.8H126.0" stroke="#868686" stroke-width="3.4"/>
<text x="135.3" y="90.3">0.4 at. % Zn</text>
<path d="M86.0,108.25H126.0" stroke="#868686" stroke-width="3.4" stroke-dasharray="14 13.4"/>
<text x="135.3" y="114.8">1 at. % Zn</text>
<path d="M86.0,132.7H122.0" stroke="#868686" stroke-width="3.4" stroke-dasharray="3.4 2.84"/>
<text x="135.3" y="139.2">4 at. % Zn</text>
<text x="74.2" y="389.3" text-anchor="middle">0.0</text>
<text x="174.1" y="389.3" text-anchor="middle">0.2</text>
<text x="273.9" y="389.3" text-anchor="middle">0.4</text>
<text x="373.7" y="389.3" text-anchor="middle">0.6</text>
<text x="473.5" y="389.3" text-anchor="middle">0.8</text>
<text x="68.2" y="15.7" text-anchor="end">0</text>
<text x="68.2" y="86.5" text-anchor="end">-5</text>
<text x="68.2" y="157.2" text-anchor="end">-10</text>
<text x="68.2" y="228.0" text-anchor="end">-15</text>
<text x="68.2" y="298.7" text-anchor="end">-20</text>
<text x="68.2" y="369.4" text-anchor="end">-25</text>
<text x="286.5" y="413.5" text-anchor="middle">voltage (V)</text>
<text transform="translate(16.7,185.6) rotate(-90)" text-anchor="middle">current density (mA/cm²)</text>
</g></svg>
</body></html>
